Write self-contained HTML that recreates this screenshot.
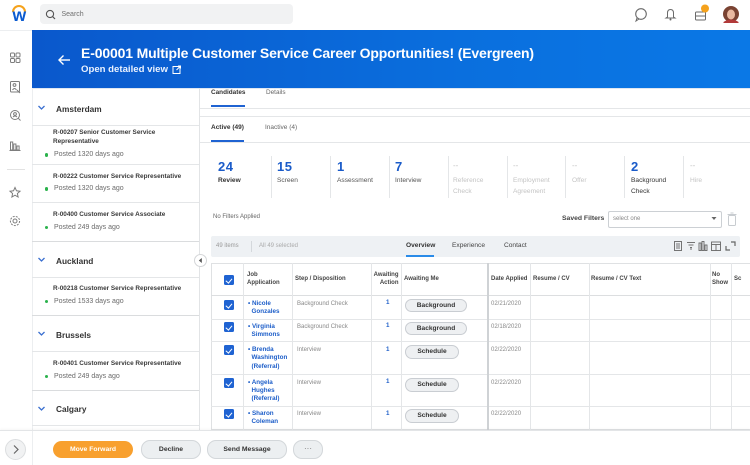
<!DOCTYPE html>
<html><head><meta charset="utf-8">
<style>
*{box-sizing:border-box}
body{margin:0;background:#fff}
#r{position:relative;width:750px;height:465px;overflow:hidden;background:#fff;font-family:"Liberation Sans",Arial,sans-serif;color:#333}
.a{position:absolute}
.t{position:absolute;white-space:nowrap;line-height:1}
.b{font-weight:bold}
.hl{position:absolute;height:1px;background:#e4e6e8}
.vl{position:absolute;width:1px;background:#e4e6e8}
.cb{position:absolute;width:10px;height:10px;background:#1f63d2;border-radius:1.5px}
.cb:after{content:"";position:absolute;left:3px;top:1.5px;width:2.5px;height:5px;border:solid #fff;border-width:0 1.3px 1.3px 0;transform:rotate(40deg)}
.pill{position:absolute;background:#eef0f2;border:1px solid #c9cdd2;border-radius:7px;font-size:6.6px;font-weight:bold;color:#333;text-align:center;line-height:11px;white-space:nowrap}
.nm{position:absolute;font-size:6.3px;font-weight:bold;color:#1d5ec9;line-height:8.4px;white-space:nowrap}
.g{color:#888;font-size:6px}
.btn{position:absolute;border-radius:9px;font-size:6.8px;font-weight:bold;text-align:center;line-height:17px;white-space:nowrap}
</style></head><body><div id="r">

<!-- top bar -->
<div class="a" style="left:12px;top:5px;width:14px;height:7px;border:2.2px solid #f5a21c;border-bottom:none;border-radius:7px 7px 0 0"></div>
<div class="t b" style="left:12.5px;top:7px;font-size:17.5px;color:#0b5bd0">w</div>
<div class="a" style="left:40px;top:4px;width:253px;height:20px;background:#f1f2f3;border-radius:4px"></div>
<svg class="a" style="left:44px;top:8px" width="14" height="14"><circle cx="6" cy="6" r="3.6" fill="none" stroke="#555" stroke-width="1.1"/><line x1="8.6" y1="8.6" x2="11" y2="11" stroke="#555" stroke-width="1.2"/></svg>
<div class="t" style="left:61.5px;top:10.5px;font-size:7px;color:#6f6f6f">Search</div>
<svg class="a" style="left:630px;top:4px" width="110" height="22">
 <circle cx="11" cy="10" r="5.3" fill="none" stroke="#6a6a6a" stroke-width="1.1"/>
 <path d="M7 14 L6 17 L9 15" fill="none" stroke="#6a6a6a" stroke-width="1"/>
 <path d="M37.5 13 L37.5 9 Q37.5 5.5 40.5 5.5 Q43.5 5.5 43.5 9 L43.5 13 L45 14 L36 14 Z" fill="none" stroke="#6a6a6a" stroke-width="1"/>
 <circle cx="40.5" cy="15.5" r="1" fill="#6a6a6a"/>
 <rect x="65.5" y="8" width="10" height="8" rx="1" fill="none" stroke="#6a6a6a" stroke-width="1"/>
 <line x1="65.5" y1="12" x2="75.5" y2="12" stroke="#6a6a6a" stroke-width="1"/>
 <circle cx="75" cy="4.5" r="4" fill="#f5a21c"/>
 <circle cx="101" cy="10" r="8" fill="#7a4332"/>
 <ellipse cx="101" cy="10.5" rx="4" ry="5" fill="#e9b9a0"/>
 <path d="M93.5 18 Q101 13 108.5 18 L108.5 19 L93.5 19Z" fill="#b23a3a"/>
</svg>
<div class="hl" style="left:0;top:30px;width:750px;background:#eceef0"></div>

<!-- blue header -->
<div class="a" style="left:32px;top:30px;width:718px;height:58px;background:linear-gradient(90deg,#0a58cc,#0a6fde 60%,#0a78e6)"></div>
<svg class="a" style="left:57px;top:54px" width="16" height="12"><line x1="2" y1="6" x2="13" y2="6" stroke="#fff" stroke-width="1.4"/><path d="M6.5 1.5 L2 6 L6.5 10.5" fill="none" stroke="#fff" stroke-width="1.4"/></svg>
<div class="t b" style="left:81px;top:46.2px;font-size:14px;color:#fff;letter-spacing:-0.15px">E-00001 Multiple Customer Service Career Opportunities! (Evergreen)</div>
<div class="t b" style="left:81px;top:65px;font-size:9.6px;color:#eaf2ff">Open detailed view</div>
<svg class="a" style="left:172px;top:65px" width="10" height="10"><rect x="1" y="1.5" width="7" height="7" fill="none" stroke="#fff" stroke-width="1"/><path d="M4.5 5 L8.5 1 M6 1 L8.5 1 L8.5 3.5" fill="none" stroke="#fff" stroke-width="1"/></svg>
<div class="hl" style="left:32px;top:88px;width:718px;background:#dfe7f2"></div>

<!-- left rail -->
<svg class="a" style="left:0;top:40px" width="32" height="200" fill="none" stroke="#7d7d7d" stroke-width="1">
 <rect x="10.5" y="13" width="4" height="4" rx="1"/><rect x="16" y="13" width="4" height="4" rx="1"/><rect x="10.5" y="18.5" width="4" height="4" rx="1"/><rect x="16" y="18.5" width="4" height="4" rx="1"/>
 <rect x="10.5" y="41.5" width="9" height="10.5" rx="1"/><circle cx="14.5" cy="45" r="1.4"/><path d="M12.5 50 Q14.5 47 16.5 50"/><path d="M17 50 L20 53"/>
 <circle cx="15" cy="75" r="4.5"/><circle cx="15" cy="74" r="1.4"/><path d="M13 77 Q15 75 17 77"/><line x1="18.3" y1="78.3" x2="20.5" y2="80.5"/>
 <rect x="10.5" y="102" width="2.2" height="8"/><rect x="13.7" y="104" width="2.2" height="6"/><rect x="16.9" y="106" width="2.2" height="4"/><line x1="9.5" y1="110.5" x2="20.5" y2="110.5"/>
 <path d="M15 147.5 L16.5 150.8 L20 151.2 L17.4 153.5 L18.1 157 L15 155.2 L11.9 157 L12.6 153.5 L10 151.2 L13.5 150.8 Z"/>
 <circle cx="15" cy="181" r="2"/><circle cx="15" cy="181" r="4.6" stroke-dasharray="2 1.2"/>
</svg>
<div class="hl" style="left:7px;top:169px;width:18px;background:#e2e2e2"></div>
<div class="vl" style="left:32px;top:88px;height:342px;background:#eceef0"></div>

<!-- left panel -->
<div class="vl" style="left:199px;top:88px;height:342px;background:#e2e4e6"></div>
<svg class="a" style="left:37px;top:104px" width="10" height="8"><path d="M1.5 2 L4.5 5 L7.5 2" fill="none" stroke="#3a6fd0" stroke-width="1.3"/></svg>
<div class="t b" style="left:56px;top:104.5px;font-size:8.3px;color:#333">Amsterdam</div>
<div class="hl" style="left:32px;top:125px;width:167px"></div>
<div class="t b" style="left:53px;top:130.2px;font-size:6.4px;color:#3a3a3a">R-00207 Senior Customer Service</div>
<div class="t b" style="left:53px;top:138.8px;font-size:6.4px;color:#3a3a3a">Representative</div>
<div class="a" style="left:44.5px;top:153px;width:3.5px;height:3.5px;border-radius:50%;background:#2bb24c"></div>
<div class="t" style="left:54px;top:151px;font-size:7px;color:#6b6b6b">Posted 1320 days ago</div>
<div class="hl" style="left:32px;top:164px;width:167px"></div>
<div class="t b" style="left:53px;top:173.5px;font-size:6.4px;color:#3a3a3a">R-00222 Customer Service Representative</div>
<div class="a" style="left:44.5px;top:187px;width:3.5px;height:3.5px;border-radius:50%;background:#2bb24c"></div>
<div class="t" style="left:54px;top:185.3px;font-size:7px;color:#6b6b6b">Posted 1320 days ago</div>
<div class="hl" style="left:32px;top:202px;width:167px"></div>
<div class="t b" style="left:53px;top:211.8px;font-size:6.4px;color:#3a3a3a">R-00400 Customer Service Associate</div>
<div class="a" style="left:44.5px;top:225.5px;width:3.5px;height:3.5px;border-radius:50%;background:#2bb24c"></div>
<div class="t" style="left:54px;top:224px;font-size:7px;color:#6b6b6b">Posted 249 days ago</div>
<div class="hl" style="left:32px;top:240.5px;width:167px;background:#dadcde"></div>
<svg class="a" style="left:37px;top:256px" width="10" height="8"><path d="M1.5 2 L4.5 5 L7.5 2" fill="none" stroke="#3a6fd0" stroke-width="1.3"/></svg>
<div class="t b" style="left:56px;top:256.5px;font-size:8.3px;color:#333">Auckland</div>
<div class="hl" style="left:32px;top:277px;width:167px"></div>
<div class="t b" style="left:53px;top:285.8px;font-size:6.4px;color:#3a3a3a">R-00218 Customer Service Representative</div>
<div class="a" style="left:44.5px;top:299.5px;width:3.5px;height:3.5px;border-radius:50%;background:#2bb24c"></div>
<div class="t" style="left:54px;top:298px;font-size:7px;color:#6b6b6b">Posted 1533 days ago</div>
<div class="hl" style="left:32px;top:315px;width:167px;background:#dadcde"></div>
<svg class="a" style="left:37px;top:330px" width="10" height="8"><path d="M1.5 2 L4.5 5 L7.5 2" fill="none" stroke="#3a6fd0" stroke-width="1.3"/></svg>
<div class="t b" style="left:56px;top:330.5px;font-size:8.3px;color:#333">Brussels</div>
<div class="hl" style="left:32px;top:351px;width:167px"></div>
<div class="t b" style="left:53px;top:360.5px;font-size:6.4px;color:#3a3a3a">R-00401 Customer Service Representative</div>
<div class="a" style="left:44.5px;top:374.5px;width:3.5px;height:3.5px;border-radius:50%;background:#2bb24c"></div>
<div class="t" style="left:54px;top:373px;font-size:7px;color:#6b6b6b">Posted 249 days ago</div>
<div class="hl" style="left:32px;top:390px;width:167px;background:#dadcde"></div>
<svg class="a" style="left:37px;top:405px" width="10" height="8"><path d="M1.5 2 L4.5 5 L7.5 2" fill="none" stroke="#3a6fd0" stroke-width="1.3"/></svg>
<div class="t b" style="left:56px;top:405.2px;font-size:8.3px;color:#333">Calgary</div>
<div class="hl" style="left:32px;top:425px;width:167px"></div>
<div class="a" style="left:193.5px;top:253.5px;width:13px;height:13px;border-radius:50%;background:#fff;border:1px solid #d4d6d8"></div>
<svg class="a" style="left:193.5px;top:253.5px" width="13" height="13"><path d="M7.8 4 L4.8 6.5 L7.8 9 Z" fill="#555"/></svg>

<!-- tabs -->
<div class="t b" style="left:211px;top:89.8px;font-size:6.4px;color:#333">Candidates</div>
<div class="t" style="left:266px;top:89.8px;font-size:6.4px;color:#666">Details</div>
<div class="a" style="left:211px;top:105px;width:34px;height:2px;background:#1f63d2"></div>
<div class="hl" style="left:200px;top:107.5px;width:550px"></div>
<div class="hl" style="left:200px;top:116px;width:550px"></div>
<div class="t b" style="left:211px;top:124.8px;font-size:6.5px;color:#333">Active (49)</div>
<div class="t" style="left:265px;top:124.8px;font-size:6.5px;color:#666">Inactive (4)</div>
<div class="a" style="left:211px;top:140px;width:33px;height:2px;background:#1f63d2"></div>
<div class="hl" style="left:200px;top:142px;width:550px"></div>

<!-- stages -->
<div class="t b" style="left:218px;top:159.6px;font-size:13px;color:#1a5bc9;letter-spacing:0.5px">24</div>
<div class="t b" style="left:218px;top:178.2px;font-size:6.6px;color:#333">Review</div>
<div class="vl" style="left:270.5px;top:156px;height:42px"></div>
<div class="t b" style="left:277px;top:159.6px;font-size:13px;color:#1a5bc9;letter-spacing:0.5px">15</div>
<div class="t" style="left:277px;top:178.2px;font-size:6.6px;color:#555">Screen</div>
<div class="vl" style="left:329.5px;top:156px;height:42px"></div>
<div class="t b" style="left:337px;top:159.6px;font-size:13px;color:#1a5bc9">1</div>
<div class="t" style="left:337px;top:178.2px;font-size:6.6px;color:#555">Assessment</div>
<div class="vl" style="left:388.5px;top:156px;height:42px"></div>
<div class="t b" style="left:395px;top:159.6px;font-size:13px;color:#1a5bc9">7</div>
<div class="t" style="left:395px;top:178.2px;font-size:6.6px;color:#555">Interview</div>
<div class="vl" style="left:447.5px;top:156px;height:42px"></div>
<div class="t" style="left:453px;top:162px;font-size:8px;color:#c4c4c4">--</div>
<div class="t" style="left:453px;top:178.2px;font-size:6.6px;color:#c4c4c4">Reference</div>
<div class="t" style="left:453px;top:188.8px;font-size:6.6px;color:#c4c4c4">Check</div>
<div class="vl" style="left:506.5px;top:156px;height:42px"></div>
<div class="t" style="left:513px;top:162px;font-size:8px;color:#c4c4c4">--</div>
<div class="t" style="left:513px;top:178.2px;font-size:6.6px;color:#c4c4c4">Employment</div>
<div class="t" style="left:513px;top:188.8px;font-size:6.6px;color:#c4c4c4">Agreement</div>
<div class="vl" style="left:565px;top:156px;height:42px"></div>
<div class="t" style="left:572px;top:162px;font-size:8px;color:#c4c4c4">--</div>
<div class="t" style="left:572px;top:178.2px;font-size:6.6px;color:#c4c4c4">Offer</div>
<div class="vl" style="left:624px;top:156px;height:42px"></div>
<div class="t b" style="left:631px;top:159.6px;font-size:13px;color:#1a5bc9">2</div>
<div class="t" style="left:631px;top:178.2px;font-size:6.6px;color:#333">Background</div>
<div class="t" style="left:631px;top:188.8px;font-size:6.6px;color:#333">Check</div>
<div class="vl" style="left:683px;top:156px;height:42px"></div>
<div class="t" style="left:690px;top:162px;font-size:8px;color:#c4c4c4">--</div>
<div class="t" style="left:690px;top:178.2px;font-size:6.6px;color:#c4c4c4">Hire</div>

<!-- filters -->
<div class="t" style="left:213px;top:214px;font-size:6px;color:#666">No Filters Applied</div>
<div class="t b" style="left:562px;top:215.5px;font-size:6.8px;color:#444">Saved Filters</div>
<div class="a" style="left:608px;top:211px;width:114px;height:17px;border:1px solid #ccd0d4;border-radius:2px;background:#fff"></div>
<div class="t" style="left:613px;top:215.8px;font-size:6px;color:#888">select one</div>
<svg class="a" style="left:711px;top:216px" width="6" height="5"><path d="M0.5 1 L3 4 L5.5 1Z" fill="#666"/></svg>
<svg class="a" style="left:727px;top:212px" width="10" height="15" fill="none" stroke="#c8ccd0" stroke-width="1"><rect x="1.5" y="3.5" width="7" height="10" rx="1"/><line x1="0.5" y1="2.5" x2="9.5" y2="2.5"/><line x1="3.5" y1="1" x2="6.5" y2="1"/></svg>

<!-- toolbar -->
<div class="a" style="left:211px;top:236px;width:529px;height:21px;background:#eef1f4;border-radius:2px"></div>
<div class="t" style="left:216px;top:243px;font-size:6px;color:#999">49 items</div>
<div class="vl" style="left:251px;top:241px;height:11px;background:#d4d8dc"></div>
<div class="t" style="left:259px;top:243px;font-size:6px;color:#aaa">All 49 selected</div>
<div class="t b" style="left:406px;top:242.5px;font-size:6.6px;color:#333">Overview</div>
<div class="a" style="left:406px;top:254.5px;width:28px;height:2px;background:#2a8be8"></div>
<div class="t" style="left:452px;top:242.5px;font-size:6.6px;color:#444">Experience</div>
<div class="t" style="left:504px;top:242.5px;font-size:6.6px;color:#444">Contact</div>
<svg class="a" style="left:673px;top:240px" width="64" height="13" fill="none" stroke="#666" stroke-width="0.9">
 <rect x="1.5" y="1.5" width="7" height="9"/><line x1="3" y1="4" x2="7" y2="4"/><line x1="3" y1="6" x2="7" y2="6"/><line x1="3" y1="8" x2="7" y2="8"/>
 <line x1="14" y1="2.5" x2="22" y2="2.5"/><line x1="15.5" y1="5" x2="20.5" y2="5"/><line x1="17" y1="7.5" x2="19" y2="7.5"/><line x1="18" y1="7.5" x2="18" y2="10"/>
 <rect x="26" y="3" width="2" height="7.5"/><rect x="29" y="1.5" width="2" height="9"/><rect x="32" y="5" width="2" height="5.5"/>
 <rect x="38.5" y="2" width="9" height="8.5"/><line x1="38.5" y1="4.5" x2="47.5" y2="4.5"/><line x1="43" y1="4.5" x2="43" y2="10.5"/>
 <path d="M53 6 L53 10 L57 10 M58 2 L62 2 L62 6" stroke-width="1.2"/>
</svg>

<!-- table -->
<div class="a" style="left:211px;top:263px;width:539px;height:167px;border:1px solid #dfe1e3;border-right:none;background:#fff"></div>
<div class="hl" style="left:211px;top:295px;width:539px;background:#dcdee0"></div>
<div class="hl" style="left:211px;top:319px;width:539px"></div>
<div class="hl" style="left:211px;top:341px;width:539px"></div>
<div class="hl" style="left:211px;top:374px;width:539px"></div>
<div class="hl" style="left:211px;top:406px;width:539px"></div>
<div class="vl" style="left:243px;top:263px;height:167px"></div>
<div class="vl" style="left:292px;top:263px;height:167px"></div>
<div class="vl" style="left:371px;top:263px;height:167px"></div>
<div class="vl" style="left:401px;top:263px;height:167px"></div>
<div class="vl" style="left:487px;top:263px;height:167px;width:1.5px;background:#cfd2d5"></div>
<div class="vl" style="left:530px;top:263px;height:167px"></div>
<div class="vl" style="left:589px;top:263px;height:167px"></div>
<div class="vl" style="left:710px;top:263px;height:167px"></div>
<div class="vl" style="left:731px;top:263px;height:167px"></div>

<!-- header -->
<div class="cb" style="left:224px;top:275px"></div>
<div class="t b" style="left:247px;top:271.6px;font-size:6px;color:#444">Job</div>
<div class="t b" style="left:247px;top:280px;font-size:6px;color:#444">Application</div>
<div class="t b" style="left:295px;top:275.7px;font-size:6px;color:#444">Step / Disposition</div>
<div class="t b" style="left:372px;width:26.5px;text-align:right;top:271.6px;font-size:6px;color:#444">Awaiting</div>
<div class="t b" style="left:372px;width:26.5px;text-align:right;top:280px;font-size:6px;color:#444">Action</div>
<div class="t b" style="left:404px;top:275.7px;font-size:6px;color:#444">Awaiting Me</div>
<div class="t b" style="left:491px;top:275.7px;font-size:6px;color:#444">Date Applied</div>
<div class="t b" style="left:533px;top:275.7px;font-size:6px;color:#444">Resume / CV</div>
<div class="t b" style="left:591px;top:275.7px;font-size:6px;color:#444">Resume / CV Text</div>
<div class="t b" style="left:712px;top:271.6px;font-size:6px;color:#444">No</div>
<div class="t b" style="left:712px;top:280px;font-size:6px;color:#444">Show</div>
<div class="t b" style="left:734px;top:275.7px;font-size:6px;color:#444">Sc</div>

<!-- rows -->
<div class="cb" style="left:224px;top:300px"></div>
<div class="nm" style="left:248px;top:299.5px">• Nicole<br>&nbsp;&nbsp;Gonzales</div>
<div class="t g" style="left:297px;top:300.5px">Background Check</div>
<div class="t b" style="left:386px;top:300.3px;font-size:6.2px;color:#1d5ec9">1</div>
<div class="pill" style="left:405px;top:299px;width:62px;height:13px">Background</div>
<div class="t g" style="left:491px;top:300.5px">02/21/2020</div>

<div class="cb" style="left:224px;top:322px"></div>
<div class="nm" style="left:248px;top:322.5px">• Virginia<br>&nbsp;&nbsp;Simmons</div>
<div class="t g" style="left:297px;top:323.5px">Background Check</div>
<div class="t b" style="left:386px;top:323.3px;font-size:6.2px;color:#1d5ec9">1</div>
<div class="pill" style="left:405px;top:322px;width:62px;height:13px">Background</div>
<div class="t g" style="left:491px;top:323.5px">02/18/2020</div>

<div class="cb" style="left:224px;top:345px"></div>
<div class="nm" style="left:248px;top:346px">• Brenda<br>&nbsp;&nbsp;Washington<br>&nbsp;&nbsp;(Referral)</div>
<div class="t g" style="left:297px;top:347px">Interview</div>
<div class="t b" style="left:386px;top:347px;font-size:6.2px;color:#1d5ec9">1</div>
<div class="pill" style="left:405px;top:345px;width:54px;height:14px;line-height:12px">Schedule</div>
<div class="t g" style="left:491px;top:347px">02/22/2020</div>

<div class="cb" style="left:224px;top:378px"></div>
<div class="nm" style="left:248px;top:378.5px">• Angela<br>&nbsp;&nbsp;Hughes<br>&nbsp;&nbsp;(Referral)</div>
<div class="t g" style="left:297px;top:379.5px">Interview</div>
<div class="t b" style="left:386px;top:379.3px;font-size:6.2px;color:#1d5ec9">1</div>
<div class="pill" style="left:405px;top:378px;width:54px;height:13.5px;line-height:11.5px">Schedule</div>
<div class="t g" style="left:491px;top:379.5px">02/22/2020</div>

<div class="cb" style="left:224px;top:409px"></div>
<div class="nm" style="left:248px;top:410px">• Sharon<br>&nbsp;&nbsp;Coleman</div>
<div class="t g" style="left:297px;top:411px">Interview</div>
<div class="t b" style="left:386px;top:410.8px;font-size:6.2px;color:#1d5ec9">1</div>
<div class="pill" style="left:405px;top:409px;width:54px;height:14px;line-height:12px">Schedule</div>
<div class="t g" style="left:491px;top:411px">02/22/2020</div>

<!-- bottom bar -->
<div class="a" style="left:0;top:430px;width:750px;height:35px;background:#fff;border-top:1px solid #e3e5e7;box-shadow:0 -1px 2px rgba(0,0,0,0.04)"></div>
<div class="vl" style="left:32px;top:431px;height:34px;background:#eceef0"></div>
<div class="a" style="left:5px;top:439px;width:21px;height:21px;border-radius:50%;background:#f1f2f3;border:1px solid #dcdee0"></div>
<svg class="a" style="left:5px;top:439px" width="21" height="21"><path d="M9 6.5 L13 10.5 L9 14.5" fill="none" stroke="#666" stroke-width="1.2"/></svg>
<div class="btn" style="left:53px;top:441px;width:80px;height:17px;background:#f8a02e;color:#fff">Move Forward</div>
<div class="btn" style="left:141px;top:440px;width:60px;height:19px;line-height:17px;background:#eceff1;border:1px solid #d3d7da;color:#333">Decline</div>
<div class="btn" style="left:207px;top:440px;width:80px;height:19px;line-height:17px;background:#eceff1;border:1px solid #d3d7da;color:#333">Send Message</div>
<div class="btn" style="left:293px;top:440px;width:30px;height:19px;line-height:15px;background:#eceff1;border:1px solid #d3d7da;color:#777;font-weight:normal;font-size:8px">···</div>

</div></body></html>
